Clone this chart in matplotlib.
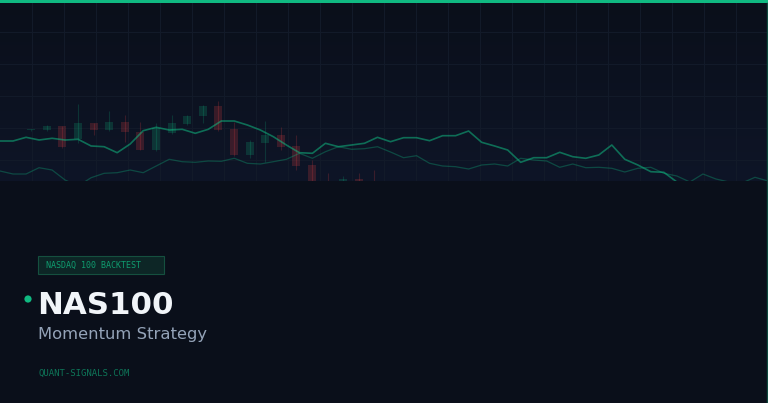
import numpy as np
import matplotlib.pyplot as plt
from matplotlib.patches import Rectangle, Circle
from matplotlib.colors import LinearSegmentedColormap

# price level (arbitrary units, higher = up)
line_fast = [109, 109, 112.7, 110, 111.7, 110, 110.7, 104, 103.3, 97.3,
             106, 119.3, 122.7, 120, 120.7, 116.7, 120.7, 129, 129, 125,
             120, 113.3, 105, 97.3, 96.7, 106.7, 103.3, 105, 106.7, 112.7,
             108.3, 112.3, 112.3, 109.3, 114.3, 114.3, 119, 107.7, 104, 100,
             87.7, 92.3, 92.3, 97.7, 93.3, 91.7, 95, 105, 90.7, 85,
             78.3, 77.7, 68, 64, 61, 63, 59, 62, 57, 55]
line_slow = [79, 76, 76, 82.3, 80, 70, 64, 72.3, 76.7, 77.3,
             80, 77.3, 84, 90.7, 88.3, 87.7, 89, 88.7, 91.7, 86.7,
             86, 88.3, 90.7, 96.7, 91.7, 98.3, 103.3, 100.7, 101.3, 103.3,
             98, 92.3, 94.3, 86.7, 84, 83.3, 81, 85, 86, 84,
             91.7, 90, 89, 82.7, 86, 82.3, 82.7, 81.7, 78, 81.7,
             82.7, 76.7, 74, 68, 76, 71, 68, 67, 72.7, 69]

candle_open = [120, 120, 124, 111, 127, 120, 128, 118, 100, 117, 126, 134,
               144, 121, 95, 107, 115, 104, 85, 68, 60, 71, 66]
candle_close = [120.6, 124, 103, 127, 120, 128, 118, 100, 122, 127, 134, 144,
                120, 95, 108, 115, 103, 84, 64, 62, 71, 62, 58]
candle_high = [121.5, 125, 124.5, 146, 127, 139, 135, 128, 127, 135, 135, 145,
               149, 128, 110, 129, 123, 115, 90, 77, 74, 77, 80]
candle_low = [119.5, 119, 102, 107, 115, 119, 108, 100, 99, 116, 125, 127,
              119, 94, 92, 88, 100, 80, 60, 58, 56, 57, 55]

W, H = 768, 403
PANEL_TOP = 181
GREEN = "#10b981"
RED = "#ef4444"


def main():
    fig = plt.figure(figsize=(W / 100, H / 100), dpi=100)
    fig.patch.set_facecolor("#0a0f1a")

    # background gradient + grid
    bg = fig.add_axes([0, 0, 1, 1])
    bg.axis("off")
    cmap = LinearSegmentedColormap.from_list("bg", ["#0a0f1a", "#0e1527"])
    grad = np.linspace(0, 1, 200).reshape(-1, 1)
    bg.imshow(grad, cmap=cmap, extent=(0, W, PANEL_TOP, 0), aspect="auto")
    for gx in range(32, W, 32):
        bg.plot([gx, gx], [0, PANEL_TOP], color="#121a29", lw=0.8)
    for gy in range(32, PANEL_TOP, 32):
        bg.plot([0, W], [gy, gy], color="#121a29", lw=0.8)
    bg.set_xlim(0, W)
    bg.set_ylim(H, 0)

    ylim = (250 - H, 250)

    # candles
    cax = fig.add_axes([0, 0, 1, 1])
    cax.patch.set_alpha(0)
    cax.axis("off")
    k = np.arange(len(candle_open))
    o, c = np.array(candle_open), np.array(candle_close)
    up = c >= o
    colors = np.where(up, GREEN, RED)
    cax.vlines(k, candle_low, candle_high, colors=colors, lw=0.8, alpha=0.2)
    cax.bar(k, np.abs(c - o) + 0.6, bottom=np.minimum(o, c) - 0.3, width=0.52,
            color=colors, alpha=0.2, linewidth=0)
    cax.set_xlim(-2, W / 15.6 - 2)
    cax.set_ylim(*ylim)

    # lines
    lax = fig.add_axes([0, 0, 1, 1])
    lax.patch.set_alpha(0)
    lax.axis("off")
    n = np.arange(len(line_fast))
    lax.plot(n, line_slow, color=GREEN, lw=0.9, alpha=0.32)
    lax.plot(n, line_fast, color=GREEN, lw=1.2, alpha=0.55)
    lax.set_xlim(0, len(line_fast) - 1)
    lax.set_ylim(*ylim)

    # overlay: bottom panel, text, accents
    ov = fig.add_axes([0, 0, 1, 1])
    ov.patch.set_alpha(0)
    ov.axis("off")
    ov.set_xlim(0, W)
    ov.set_ylim(H, 0)
    ov.add_patch(Rectangle((0, PANEL_TOP), W, H - PANEL_TOP, facecolor="#0a0f1a", lw=0))
    ov.add_patch(Rectangle((0, 0), W, 2.8, facecolor=GREEN, lw=0))
    ov.plot([767.3, 767.3], [2.8, H], color="#0f4a3e", lw=1.0)

    ov.add_patch(Rectangle((38.3, 255.7), 125.4, 18.6, facecolor="#0d2626",
                           edgecolor="#15503f", lw=0.8))
    ov.text(46, 268, "NASDAQ 100 BACKTEST", family="DejaVu Sans Mono", fontsize=6,
            color=GREEN, alpha=0.8, va="baseline", ha="left")

    ov.add_patch(Circle((28, 299), 3.6, facecolor=GREEN, lw=0))
    ov.text(37.5, 313.5, "NAS100", family="DejaVu Sans", fontweight="bold",
            fontsize=22.2, color="#f1f5f9", va="baseline", ha="left")
    ov.text(38, 339.5, "Momentum Strategy", family="DejaVu Sans", fontsize=11.8,
            color="#94a3b8", va="baseline", ha="left")
    ov.text(38.5, 376, "QUANT-SIGNALS.COM", family="DejaVu Sans Mono", fontsize=6.5,
            color=GREEN, alpha=0.6, va="baseline", ha="left")

    fig.savefig("out.png", dpi=100, facecolor=fig.get_facecolor())


if __name__ == "__main__":
    main()
